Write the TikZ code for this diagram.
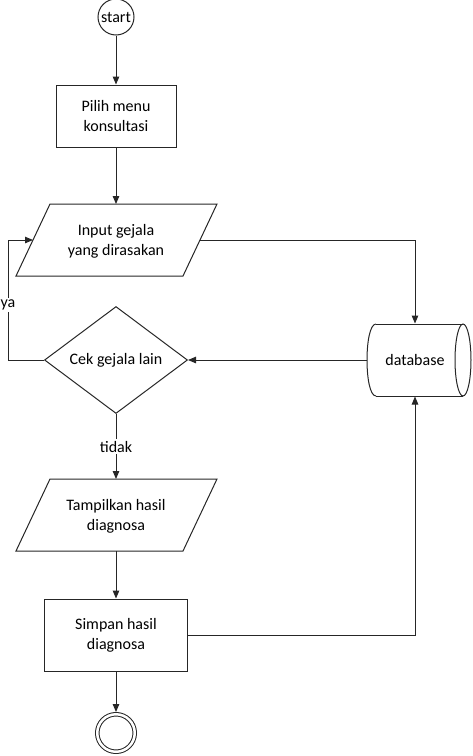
\documentclass[tikz,border=0pt]{standalone}
\usepackage{fontspec}
\setmainfont{Carlito}
\usetikzlibrary{arrows.meta,shapes.geometric}
\begin{document}
\begin{tikzpicture}[x=1pt,y=-1pt,
  font=\fontsize{16}{20}\selectfont,
  line width=1pt,
  ln/.style={draw=black!85},
  box/.style={ln, rectangle, align=center, inner sep=0pt},
  lbl/.style={align=center, inner sep=0pt},
  arr/.style={ln, -{Triangle[length=8pt,width=6.5pt]}},
  cut/.style={fill=white, inner sep=2pt}
]
\useasboundingbox (0,0) rectangle (473,756);

% terminals and processes
\node[ln, circle, minimum size=36pt, inner sep=0pt] (start) at (116,17) {start};
\node[box, minimum width=120pt, minimum height=62pt] (pilih) at (116,116) {Pilih menu\\konsultasi};

% input parallelogram
\node[lbl] (input) at (116,241) {Input gejala\\yang dirasakan};
\draw[ln] (50,204) -- (217,204) -- (183,276) -- (16,276) -- cycle;
\coordinate (inputN) at (116,204);
\coordinate (inputE) at (200,240);
\coordinate (inputW) at (33,240);

% decision
\node[ln, diamond, minimum width=143pt, minimum height=107pt, aspect=1.34, inner sep=0pt] (cek) at (116,360) {Cek gejala lain};

% database
\node[lbl, minimum width=96pt, minimum height=72pt] (db) at (415,360) {database};
\draw[ln] (376,324) -- (463,324);
\draw[ln] (376,396) -- (463,396);
\draw[ln] (376,324) .. controls (364,324) and (364,396) .. (376,396);
\draw[ln] (463,360) ellipse [x radius=8, y radius=36];

% output parallelogram
\node[lbl] (tampil) at (116,516) {Tampilkan hasil\\diagnosa};
\draw[ln] (50,479) -- (217,479) -- (183,551) -- (16,551) -- cycle;
\coordinate (tampilN) at (116,479);
\coordinate (tampilS) at (116,551);

\node[box, minimum width=143pt, minimum height=72pt] (simpan) at (116,635) {Simpan hasil\\diagnosa};

\node[ln, circle, double, double distance=2.5pt, minimum size=37.5pt, inner sep=0pt, outer sep=2.25pt] (stop) at (116,733) {};

% connectors
\coordinate (yaA) at (8,360);
\coordinate (yaB) at (8,240);
\draw[arr] (start) -- (pilih);
\draw[arr] (pilih) -- (inputN);
\draw[arr] (inputE) -| (db.north);
\draw[arr] (db.west) -- (cek.east);
\draw[arr] (cek.west) -- (yaA) -- (yaB) -- (inputW);
\node[cut] (ya) at (8,305) {ya};
\draw[arr] (cek.south) -- node[cut] (tidak) {tidak} (tampilN);
\draw[arr] (tampilS) -- (simpan.north);
\draw[arr] (simpan.east) -| (db.south);
\draw[arr] (simpan.south) -- (stop.north);
\end{tikzpicture}
\end{document}
